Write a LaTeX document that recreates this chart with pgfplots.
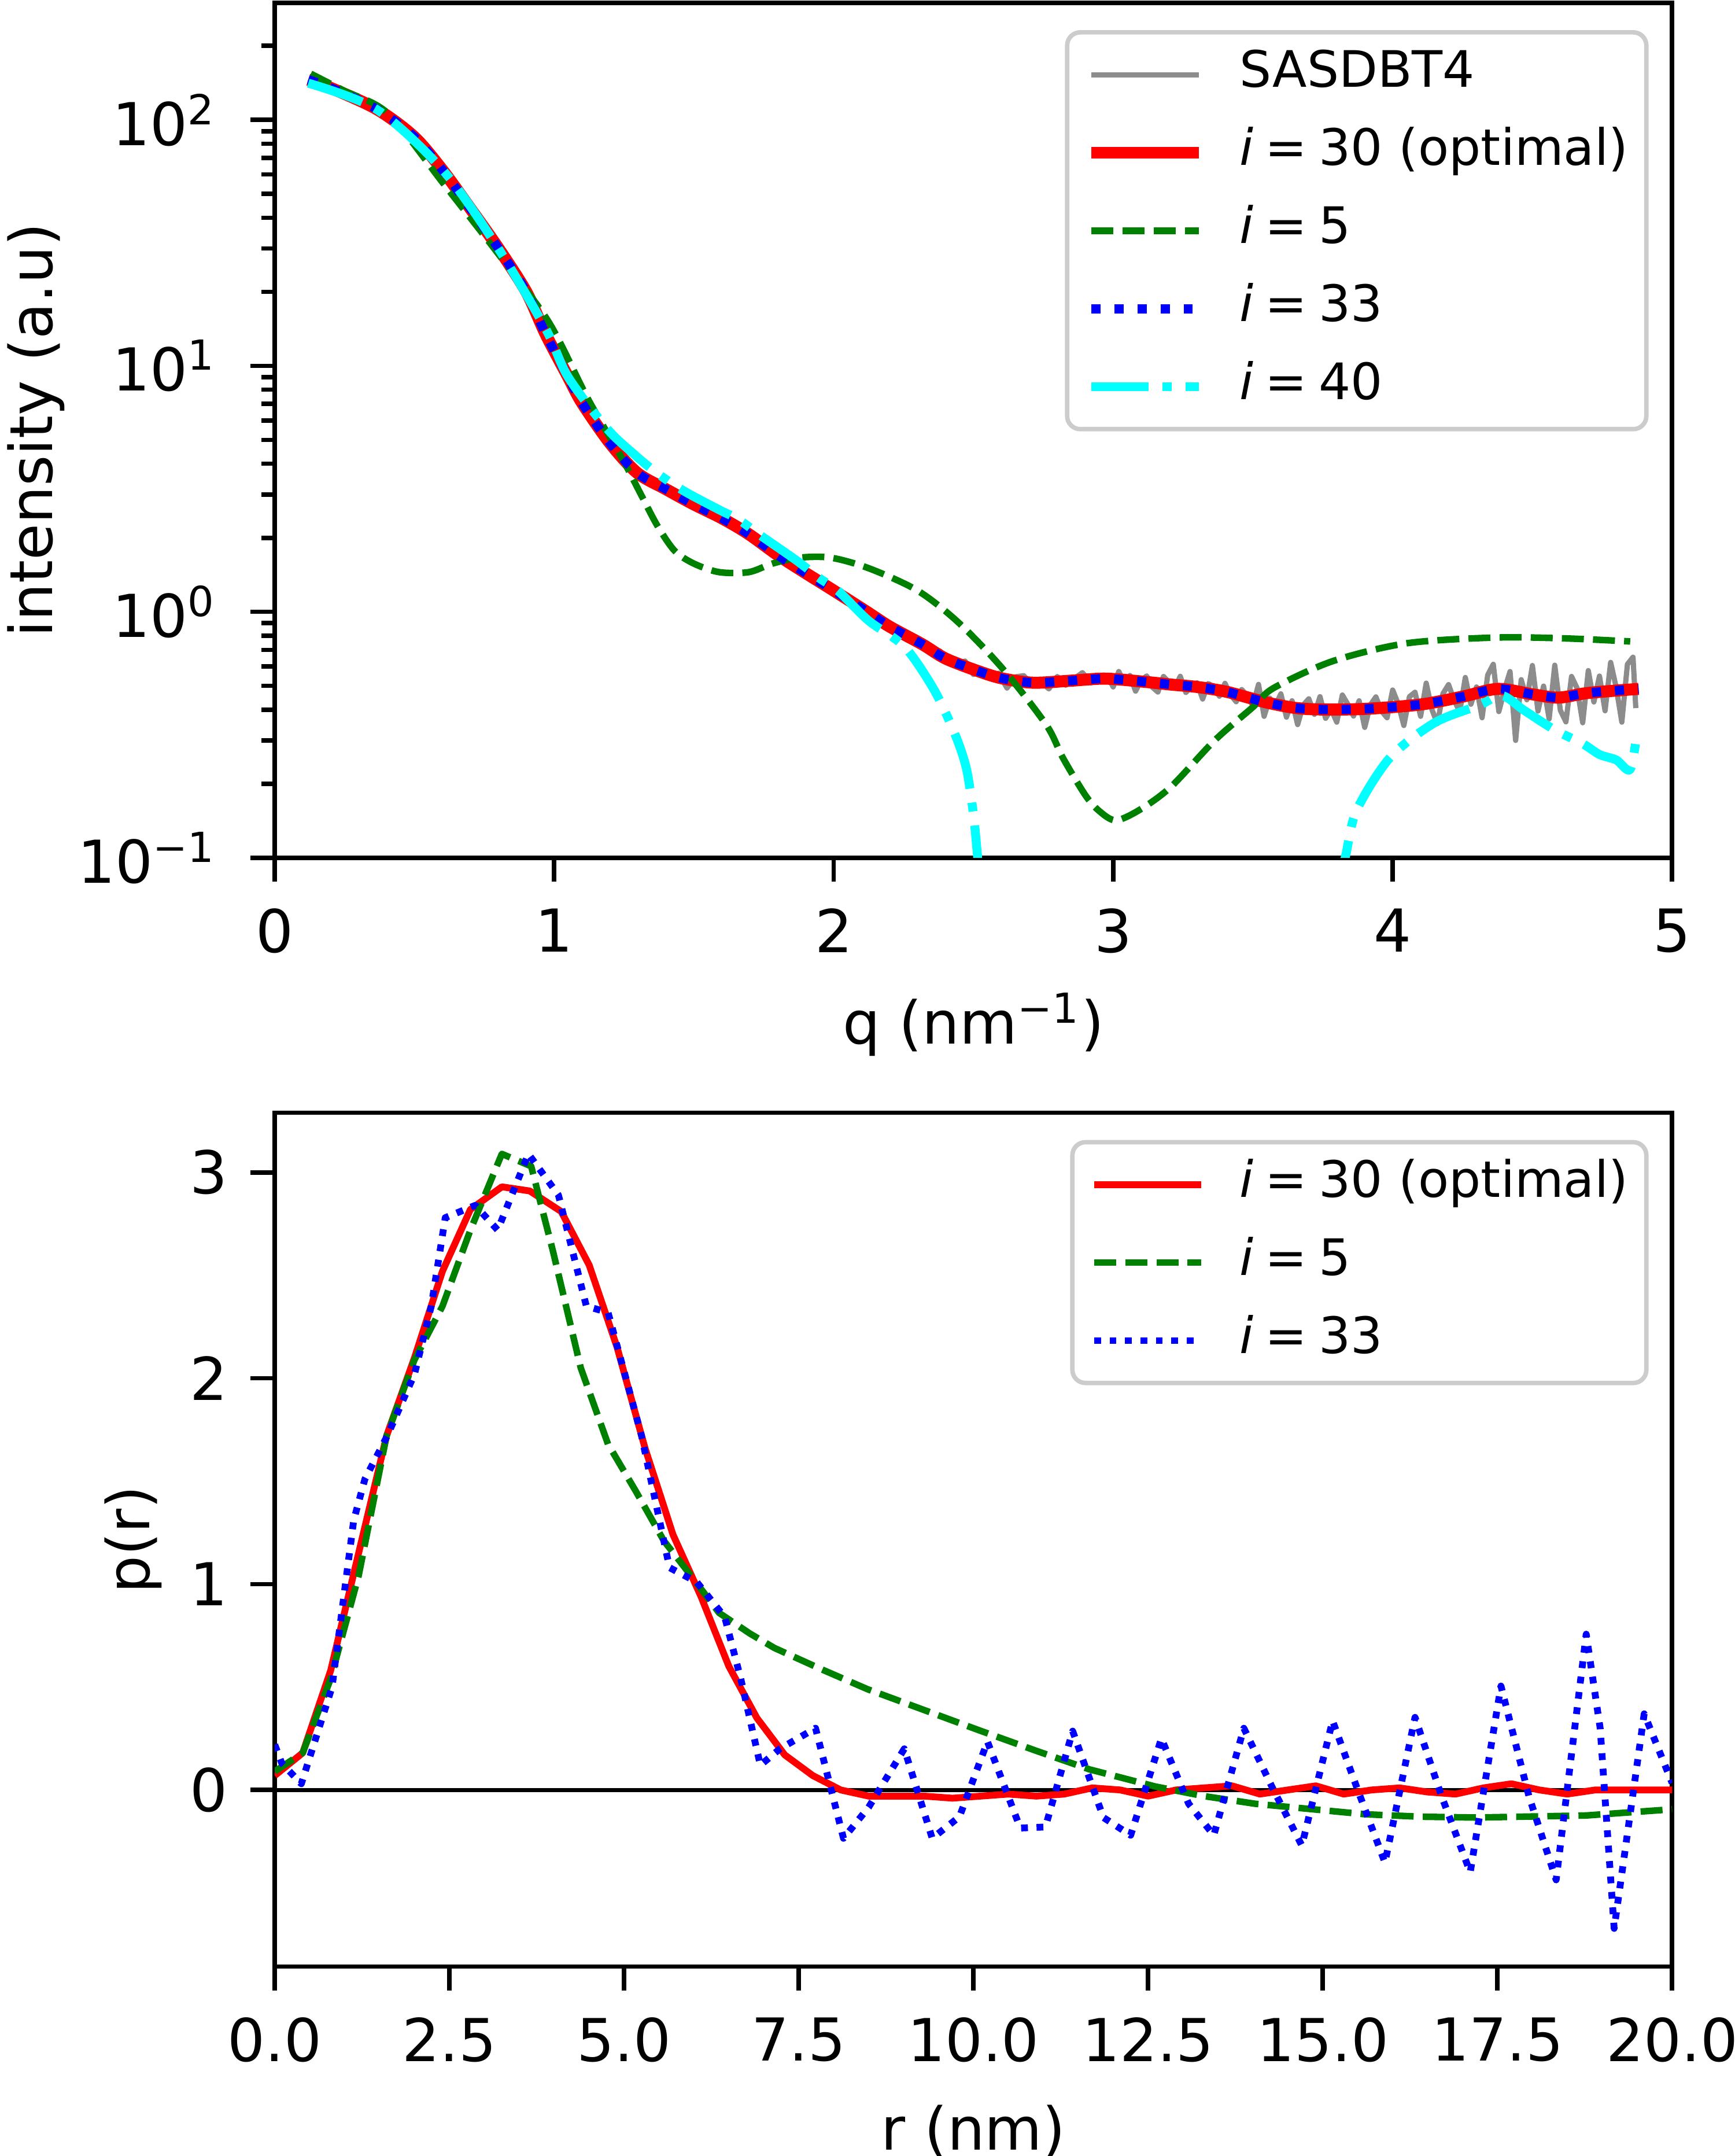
\documentclass[border=0pt]{standalone}
\usepackage{fontspec}
\setmainfont{DejaVu Sans}
\usepackage{pgfplots}
\pgfplotsset{compat=1.18}
\usepackage{pgfplotstable}
\usetikzlibrary{calc}
\newcommand\fsz{\fontsize{11.3}{13.5}\selectfont}
\newcommand\lsz{\fontsize{9.6}{11.5}\selectfont}
\newcommand\eq{\kern2.2pt=\kern2.2pt}
\definecolor{mplgreen}{rgb}{0,0.5,0}
\definecolor{mplcyan}{rgb}{0,1,1}
\definecolor{mplgray}{rgb}{0.55,0.55,0.55}

\pgfplotstableread{
q I
0.12 145.6
0.2 134.9
0.366 110.4
0.5 85.1
0.604 61.7
0.7 43.6
0.8 30.1
0.9 20.0
0.97 13.4
1.05 9.0
1.10 7.05
1.20 4.84
1.297 3.67
1.40 3.15
1.495 2.75
1.60 2.40
1.693 2.08
1.80 1.70
1.89 1.46
2.00 1.22
2.119 1.00
2.20 0.871
2.317 0.738
2.40 0.646
2.515 0.575
2.60 0.537
2.713 0.515
2.85 0.525
2.97 0.535
3.10 0.521
3.208 0.506
3.30 0.495
3.406 0.473
3.545 0.429
3.65 0.407
3.743 0.401
3.90 0.403
4.10 0.420
4.25 0.452
4.376 0.486
4.50 0.462
4.594 0.448
4.70 0.468
4.88 0.486
}\redtop

\pgfplotstableread{
q I
0.12 146
0.2 135
0.366 110
0.5 85
0.604 61.5
0.7 43.8
0.8 30.0
0.9 20.2
0.97 13.4
1.05 9.0
1.10 7.1
1.20 4.82
1.30 3.68
1.36 3.30
1.40 3.17
1.44 2.96
1.48 2.83
1.52 2.63
1.56 2.57
1.60 2.37
1.64 2.30
1.68 2.11
1.72 2.02
1.76 1.83
1.80 1.73
1.84 1.57
1.87 1.55
1.90 1.460
1.93 1.339
1.96 1.364
1.99 1.229
2.02 1.136
2.05 1.150
2.08 1.075
2.11 1.053
2.14 0.940
2.17 0.914
2.20 0.891
2.23 0.803
2.26 0.810
2.29 0.791
2.32 0.725
2.35 0.679
2.38 0.693
2.41 0.640
2.44 0.610
2.47 0.631
2.50 0.556
2.53 0.582
2.56 0.546
2.59 0.563
2.62 0.490
2.65 0.544
2.68 0.550
2.71 0.504
2.74 0.521
2.77 0.486
2.80 0.546
2.83 0.503
2.86 0.534
2.89 0.566
2.92 0.514
2.95 0.529
2.98 0.547
3.00 0.495
3.02 0.572
3.04 0.517
3.06 0.551
3.08 0.476
3.10 0.526
3.12 0.549
3.14 0.494
3.16 0.472
3.18 0.546
3.20 0.517
3.22 0.490
3.24 0.547
3.26 0.470
3.28 0.497
3.30 0.515
3.32 0.442
3.34 0.511
3.36 0.497
3.38 0.454
3.40 0.512
3.42 0.460
3.44 0.431
3.46 0.483
3.48 0.455
3.50 0.415
3.52 0.507
3.54 0.376
3.56 0.446
3.58 0.415
3.60 0.464
3.62 0.373
3.64 0.435
3.66 0.348
3.68 0.418
3.70 0.443
3.72 0.383
3.74 0.452
3.76 0.369
3.78 0.401
3.80 0.356
3.82 0.459
3.84 0.420
3.86 0.377
3.88 0.435
3.90 0.339
3.92 0.418
3.94 0.451
3.96 0.395
3.98 0.371
4.00 0.481
4.02 0.422
4.04 0.345
4.06 0.452
4.08 0.471
4.10 0.376
4.12 0.513
4.14 0.402
4.16 0.351
4.18 0.465
4.20 0.506
4.22 0.437
4.24 0.393
4.26 0.541
4.28 0.421
4.30 0.495
4.32 0.371
4.34 0.553
4.36 0.612
4.38 0.393
4.40 0.482
4.42 0.572
4.44 0.300
4.46 0.530
4.48 0.439
4.50 0.605
4.52 0.395
4.54 0.499
4.56 0.367
4.58 0.607
4.60 0.398
4.62 0.357
4.64 0.546
4.66 0.489
4.68 0.354
4.70 0.577
4.72 0.430
4.74 0.548
4.76 0.396
4.78 0.623
4.80 0.492
4.82 0.356
4.84 0.612
4.86 0.654
4.87 0.406
}\graytop

\pgfplotstableread{
q I
0.129 154
0.25 131
0.406 106
0.604 55
0.80 28.5
0.98 15.1
1.119 7.4
1.245 4.16
1.307 3.05
1.369 2.24
1.431 1.77
1.50 1.57
1.59 1.45
1.696 1.45
1.78 1.57
1.875 1.66
1.99 1.66
2.128 1.50
2.30 1.22
2.444 0.91
2.603 0.59
2.76 0.348
2.82 0.255
2.90 0.18
2.95 0.155
3.01 0.142
3.10 0.158
3.208 0.195
3.363 0.30
3.50 0.41
3.574 0.49
3.785 0.63
4.05 0.745
4.366 0.786
4.615 0.78
4.85 0.758
}\greentop

\pgfplotstableread{
q I
0.12 141
0.366 110
0.604 62
0.80 30
0.97 14.1
1.05 9.0
1.19 5.54
1.293 4.30
1.37 3.65
1.466 3.09
1.59 2.60
1.66 2.37
1.742 2.03
1.866 1.62
1.949 1.37
2.018 1.21
2.125 0.92
2.254 0.72
2.36 0.48
2.434 0.318
2.475 0.23
2.50 0.15
2.515 0.10
2.53 0.06
}\cyanA

\pgfplotstableread{
q I
3.79 0.07
3.83 0.10
3.87 0.155
3.99 0.255
4.15 0.354
4.31 0.417
4.39 0.457
4.47 0.398
4.58 0.331
4.68 0.291
4.74 0.263
4.80 0.25
4.85 0.229
4.875 0.33
}\cyanB

\pgfplotsset{
  every axis/.append style={
    scale only axis,
    width=267pt,
    axis line style={line width=0.85pt},
    every tick/.style={black, line width=0.85pt},
    tick align=outside,
    major tick length=4.6pt,
    minor tick length=2.6pt,
    xtick pos=bottom,
    ytick pos=left,
    tick label style={font=\fsz},
    label style={font=\fsz},
    xticklabel shift=1.6pt,
    /pgf/number format/assume math mode=true,
    legend cell align=left,
    legend style={at={(1,1)}, anchor=north east, xshift=-4.5pt, yshift=-5.2pt,
      draw=black!20, line width=0.85pt, rounded corners=2.5pt,
      fill=white, fill opacity=0.8, text opacity=1,
      inner xsep=3.5pt, inner ysep=3.3pt, row sep=5.3pt, column sep=6.7pt,
      font=\lsz, nodes={inner sep=0pt, text height=7.2pt, text depth=2.4pt},
      cells={anchor=west}},
    legend image code/.code={\draw[#1, line cap=butt] (0pt,0pt) -- (20.5pt,0pt);},
  }
}

\begin{document}
\begin{tikzpicture}[font=\fsz]
\begin{axis}[
  name=top, at={(0,0)}, anchor=north west,
  height=163.3pt,
  xmin=0, xmax=5,
  ymode=log, ymin=0.1, ymax=299,
  xtick={0,1,2,3,4,5},
  ytick={0.1,1,10,100},
  yticklabels={10\textsuperscript{−1},10\textsuperscript{0},10\textsuperscript{1},10\textsuperscript{2}},
  yticklabel shift=3pt,
  minor ytick={0.2,0.3,0.4,0.5,0.6,0.7,0.8,0.9,2,3,4,5,6,7,8,9,20,30,40,50,60,70,80,90,200},
  xlabel={q (nm\textsuperscript{−1})},
  ylabel={intensity (a.u)},
  xlabel style={at={(axis description cs:0.5,-0.195)}, anchor=center},
  ylabel style={at={(axis description cs:-0.171,0.5)}, anchor=center},
]
\addplot[mplgray, line width=1pt, line join=round] table[x=q,y=I] {\graytop};
\addlegendentry{SASDBT4}
\addplot[red, line width=2.3pt, smooth, line join=round] table[x=q,y=I] {\redtop};
\addlegendentry{\textit{i}\eq 30 (optimal)}
\addplot[mplgreen, line width=1.25pt, dash pattern=on 4.2pt off 1.75pt, smooth, line join=round] table[x=q,y=I] {\greentop};
\addlegendentry{\textit{i}\eq 5}
\addplot[blue, line width=1.75pt, dash pattern=on 1.75pt off 2.65pt, smooth, line join=round] table[x=q,y=I] {\redtop};
\addlegendentry{\textit{i}\eq 33}
\addplot[mplcyan, line width=1.7pt, dash pattern=on 10.9pt off 2.7pt on 1.7pt off 2.7pt, smooth, line join=round] table[x=q,y=I] {\cyanA};
\addlegendentry{\textit{i}\eq 40}
\addplot[mplcyan, line width=1.7pt, dash pattern=on 10.9pt off 2.7pt on 1.7pt off 2.7pt, smooth, line join=round, forget plot] table[x=q,y=I] {\cyanB};
\end{axis}

\begin{axis}[
  at={($(top.south west)+(0,-48.7pt)$)}, anchor=north west,
  height=163.1pt,
  xmin=0, xmax=20, ymin=-0.858, ymax=3.29,
  xtick={0,2.5,5,7.5,10,12.5,15,17.5,20},
  xticklabel style={/pgf/number format/.cd, fixed, fixed zerofill, precision=1},
  ytick={0,1,2,3},
  yticklabel shift=0.9pt,
  xlabel={r (nm)},
  ylabel={p(r)},
  xlabel style={at={(axis description cs:0.5,-0.193)}, anchor=center},
  ylabel style={at={(axis description cs:-0.1015,0.5)}, anchor=center},
]
\addplot[black, line width=0.8pt, forget plot] coordinates {(0,0) (20,0)};
\addplot[red, line width=1.3pt, line join=round] coordinates {
(0,0.07) (0.4,0.18) (0.8,0.58) (1.2,1.15) (1.6,1.72) (2.0,2.1) (2.4,2.52) (2.8,2.82)
(3.25,2.93) (3.65,2.91) (4.1,2.81) (4.5,2.55) (4.9,2.15) (5.3,1.66) (5.7,1.24) (6.1,0.94)
(6.5,0.6) (6.9,0.35) (7.3,0.17) (7.7,0.07) (8.1,0.0) (8.5,-0.03) (8.9,-0.03) (9.3,-0.03)
(9.7,-0.04) (10.1,-0.03) (10.5,-0.02) (10.9,-0.03) (11.3,-0.02) (11.7,0.01) (12.1,0.0)
(12.5,-0.03) (12.9,0.0) (13.3,0.01) (13.7,0.02) (14.1,-0.02) (14.5,0.0) (14.9,0.02)
(15.3,-0.02) (15.7,0.0) (16.1,0.01) (16.5,-0.01) (16.9,-0.02) (17.3,0.01) (17.7,0.03)
(18.1,0.0) (18.5,-0.02) (18.9,0.0) (19.3,0.0) (19.7,0.0) (20.0,0.0)};
\addlegendentry{\textit{i}\eq 30 (optimal)}
\addplot[mplgreen, line width=1.25pt, dash pattern=on 4.2pt off 1.75pt, line join=round] coordinates {
(0,0.09) (0.4,0.18) (0.8,0.54) (1.2,1.04) (1.6,1.72) (2.0,2.09) (2.4,2.35) (2.8,2.72)
(3.25,3.09) (3.67,3.03) (3.98,2.62) (4.38,2.05) (4.77,1.68) (5.17,1.45) (5.57,1.21)
(5.96,1.04) (6.36,0.86) (6.8,0.76) (7.15,0.69) (7.8,0.59) (8.48,0.49) (9.2,0.40)
(10.08,0.29) (10.9,0.19) (11.66,0.10) (12.6,0.017) (13.3,-0.03) (14.03,-0.067)
(15.6,-0.118) (16.4,-0.13) (17.2,-0.134) (18.77,-0.124) (20,-0.094)};
\addlegendentry{\textit{i}\eq 5}
\addplot[blue, line width=1.3pt, dash pattern=on 1.3pt off 1.65pt, line join=round] coordinates {
(0,0.22) (0.1,0.13) (0.38,0.03) (0.82,0.5) (1.13,1.31) (1.29,1.51) (1.61,1.72) (2.0,2.02)
(2.24,2.35) (2.44,2.78) (2.87,2.84) (3.19,2.72) (3.63,3.09) (4.06,2.89) (4.46,2.35)
(4.77,2.32) (5.25,1.72) (5.65,1.08) (6.04,1.01) (6.44,0.84) (6.67,0.54) (6.95,0.12)
(7.23,0.2) (7.74,0.3) (8.14,-0.235) (8.5,-0.084) (9.01,0.2) (9.41,-0.235) (9.8,-0.13)
(10.2,0.235) (10.67,-0.185) (11.03,-0.18) (11.42,0.286) (11.86,-0.134) (12.25,-0.22)
(12.69,0.25) (13.08,-0.067) (13.44,-0.22) (13.87,0.30) (14.27,0.017) (14.7,-0.27)
(15.14,0.336) (15.5,0.0) (15.89,-0.353) (16.32,0.353) (16.7,-0.03) (17.11,-0.40)
(17.55,0.505) (17.95,-0.03) (18.34,-0.437) (18.77,0.757) (18.97,0.3) (19.17,-0.673)
(19.6,0.37) (20,0.034)};
\addlegendentry{\textit{i}\eq 33}
\end{axis}
\pgfresetboundingbox
\useasboundingbox (-52.5pt,0.55pt) rectangle (279pt,-411.3pt);
\end{tikzpicture}
\end{document}
